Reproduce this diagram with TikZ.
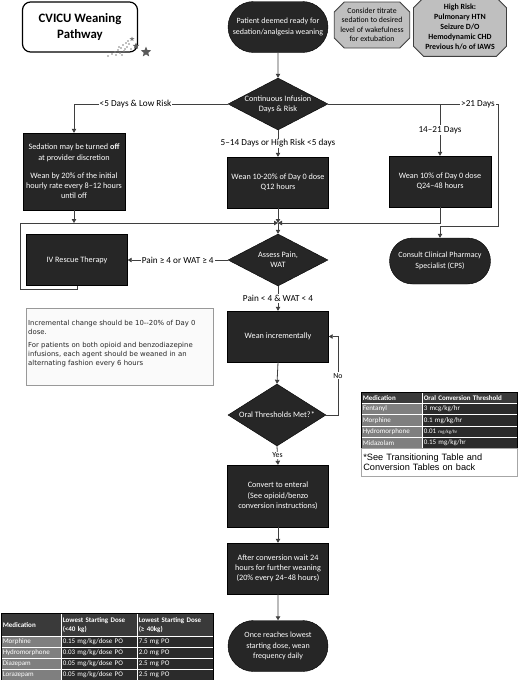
\documentclass[tikz,border=0pt]{standalone}
\usepackage{fontspec}
\setmainfont{Carlito}
\newfontfamily\notefont{DejaVu Sans}
\newfontfamily\arialfont{Liberation Sans}
\usetikzlibrary{shapes.geometric,shapes.misc,arrows.meta}
\definecolor{dk}{HTML}{262626}
\definecolor{gy}{HTML}{BFBFBF}
\definecolor{gyb}{HTML}{3F3F3F}
\definecolor{tbh}{HTML}{3A3A3A}
\definecolor{tbg}{HTML}{7F7F7F}
\definecolor{tbd}{HTML}{2B2B2B}
\definecolor{stc}{HTML}{5A5A5A}
\tikzset{
  box/.style={rectangle, fill=dk, draw=black, text=white, align=center, minimum width=101pt, minimum height=51pt, inner sep=1pt, font=\fontsize{8.2}{10.3}\selectfont},
  term/.style={rounded rectangle, fill=dk, draw=black, text=white, align=center, minimum width=102pt, minimum height=51pt, inner sep=1pt, font=\fontsize{8}{10.3}\selectfont},
  dia/.style={diamond, fill=dk, draw=black, minimum width=100pt, minimum height=52pt, inner sep=0pt},
  dtext/.style={text=white, align=center, inner sep=0pt, font=\fontsize{8.2}{10.3}\selectfont},
  gbox/.style={chamfered rectangle, chamfered rectangle xsep=5pt, chamfered rectangle ysep=5pt, fill=gy, draw=gyb, line width=0.9pt, align=center, inner sep=1pt, font=\fontsize{7.8}{9.4}\selectfont},
  lab/.style={fill=white, inner sep=1pt, font=\fontsize{9.2}{10}\selectfont},
  ln/.style={line width=0.8pt, draw=gyb},
  arr/.style={ln, -{Triangle[length=4pt,width=4.5pt]}},
  tc/.style={rectangle, anchor=north west, draw=white, line width=0.5pt, inner xsep=1.5pt, inner ysep=0pt, text=white, font=\fontsize{7}{7.6}\selectfont, align=left},
  starx/.style={star, star points=5, star point ratio=2.3, fill=stc, inner sep=0pt},
}
\begin{document}
\begin{tikzpicture}[x=1pt,y=-1pt]
\useasboundingbox (0,0) rectangle (520,680);
% title
\node[rectangle, rounded corners=8pt, draw=black, line width=1.2pt, fill=white, minimum width=115pt, minimum height=50pt, align=center, font=\fontsize{12.8}{16}\selectfont\bfseries] (title) at (80,27) {CVICU Weaning\\Pathway};
\node[starx, minimum size=11pt] (st1) at (146,52) {};
\node[starx, minimum size=7pt] (st2) at (136,46) {};
\node[starx, minimum size=5pt, fill=stc!80] (st3) at (132,39) {};
\foreach \px/\py in {108/56,112/54,115/52,118/50,121/48,124/51,127/47,129/44,126/43,120/53,116/55,123/45,131/49,128/41,122/55,125/49,119/47} {
  \fill[stc!75] (\px,\py) circle (0.8pt);
}
% top row
\node[term] (start) at (278,27) {Patient deemed ready for\\sedation/analgesia weaning};
\node[gbox, minimum width=71pt, minimum height=46pt] (cons) at (372,25) {Consider titrate\\sedation to desired\\level of wakefulness\\for extubation};
\node[gbox, minimum width=93pt, minimum height=50pt, font=\fontsize{7.9}{10.2}\selectfont\bfseries] (risk) at (460,27) {High Risk:\\Pulmonary HTN\\Seizure D/O\\Hemodynamic CHD\\Previous h/o of IAWS};
% first decision
\node[dia] (d1) at (278,104) {};
\node[dtext] (d1t) at (d1) {Continuous Infusion\\Days \& Risk};
% branch boxes
\node[box, minimum width=102pt, minimum height=77pt] (b1) at (74,171.5) {Sedation may be turned \textbf{off}\\at provider discretion\\[8pt]Wean by 20\% of the initial\\hourly rate every 8--12 hours\\until off};
\node[box] (b2) at (278,182.5) {Wean 10-20\% of Day 0 dose\\Q12 hours};
\node[box, minimum width=102pt] (b3) at (440,181.5) {Wean 10\% of Day 0 dose\\Q24--48 hours};
\node[term, minimum width=103pt, minimum height=46pt] (cps) at (440,261) {Consult Clinical Pharmacy\\Specialist (CPS)};
% second decision
\node[dia] (d2) at (278,260) {};
\node[dtext] (d2t) at (d2) {Assess Pain,\\WAT};
\node[box] (iv) at (77,260) {IV Rescue Therapy};
\node[box] (wean) at (278,336.5) {Wean incrementally};
\node[dia, minimum height=62pt, minimum width=98pt] (d3) at (277,415) {};
\node[dtext] (d3t) at (d3) {Oral Thresholds Met?*};
\node[box, minimum height=62pt] (conv) at (278,496) {Convert to enteral\\(See opioid/benzo\\conversion instructions)};
\node[box] (after) at (278,568.5) {After conversion wait 24\\hours for further weaning\\(20\% every 24--48 hours)};
\node[term] (once) at (278,646) {Once reaches lowest\\starting dose, wean\\frequency daily};
% note box
\node[rectangle, draw=gray!80, line width=0.7pt, fill=gray!4, minimum width=187pt, minimum height=77pt] (note) at (119.5,346.5) {};
\node[anchor=north west, inner sep=0pt, align=left, font=\notefont\fontsize{6.9}{8.7}\selectfont, text=black!85] (notet) at (28,320) {Incremental change should be 10--20\% of Day 0\\dose.\\[5pt]For patients on both opioid and benzodiazepine\\infusions, each agent should be weaned in an\\alternating fashion every 6 hours};
% connectors
\coordinate (rc) at (498,104);
\coordinate (bc) at (440,104);
\coordinate (j) at (278,223);
\coordinate (jl) at (74,223);
\coordinate (lc) at (20,223);
\draw[arr] (start) -- (d1);
\draw[arr] (d1.west) -| node[lab, pos=0.3] {<5 Days \& Low Risk} (b1.north);
\draw[arr] (d1.south) -- node[lab] {5--14 Days or High Risk <5 days} (b2.north);
\draw[ln] (d1.east) -- (rc);
\node[lab] (gt21) at (478,104) {>21 Days};
\draw[arr] (rc) |- (440,226) -- (cps.north);
\draw[arr] (bc) -- node[lab] {14--21 Days} (b3.north);
\draw[arr] (b1.south) -- (jl);
\draw[arr] (b2.south) -- (j);
\draw[arr] (b3.south) |- (j);
\draw[arr] (iv.south) -- ++(0,4) -| (lc) -- (j);
\draw[arr] (j) -- (d2.north);
\draw[arr] (d2.west) -- node[lab] {Pain ≥ 4 or WAT ≥ 4} (iv.east);
\draw[arr] (d2.south) -- node[lab] {Pain < 4 \& WAT < 4} (wean.north);
\draw[arr] (wean.south) -- (d3.north);
\draw[arr] (d3.east) -| node[lab, pos=0.75, font=\fontsize{7.8}{9}\selectfont] {No} (338,336.5) -- (wean.east);
\draw[arr] (d3.south) -- node[lab, font=\fontsize{7.8}{9}\selectfont] {Yes} (conv.north);
\draw[arr] (conv) -- (after);
\draw[arr] (after) -- (once);
% right table
\node[tc, fill=tbh, text width=58pt, minimum height=11.2pt, font=\fontsize{7}{7.6}\selectfont\bfseries] (oh1) at (361,392) {Medication};
\node[tc, fill=tbh, text width=92pt, minimum height=11.2pt, font=\fontsize{7}{7.6}\selectfont\bfseries] (oh2) at (422,392) {Oral Conversion Threshold};
\node[tc, fill=tbg, text width=58pt, minimum height=11.2pt] (oa1) at (361,403.2) {Fentanyl};
\node[tc, fill=tbd, text width=92pt, minimum height=11.2pt] (oa2) at (422,403.2) {3 mcg/kg/hr};
\node[tc, fill=tbg, text width=58pt, minimum height=11.2pt] (ob1) at (361,414.4) {Morphine};
\node[tc, fill=tbd, text width=92pt, minimum height=11.2pt] (ob2) at (422,414.4) {0.1 mg/kg/hr};
\node[tc, fill=tbg, text width=58pt, minimum height=11.2pt] (oc1) at (361,425.6) {Hydromorphone};
\node[tc, fill=tbd, text width=92pt, minimum height=11.2pt] (oc2) at (422,425.6) {0.01 {\fontsize{4.8}{5}\selectfont mg/kg/hr}};
\node[tc, fill=tbg, text width=58pt, minimum height=11.2pt] (od1) at (361,436.8) {Midazolam};
\node[tc, fill=tbd, text width=92pt, minimum height=11.2pt] (od2) at (422,436.8) {0.15 mg/kg/hr};
\draw[black, line width=0.8pt] (361,392) rectangle (517,448);
\node[rectangle, anchor=north west, draw=gray!70, line width=0.7pt, fill=white, minimum width=156pt, minimum height=28pt, text width=152pt, inner xsep=2pt, inner ysep=0pt, align=left, font=\arialfont\fontsize{9.2}{10.5}\selectfont] (seeback) at (361,448) {*See Transitioning Table and\\Conversion Tables on back};
% bottom table
\node[tc, fill=tbh, text width=57pt, minimum height=23pt, font=\fontsize{7}{9}\selectfont\bfseries] (bh1) at (1,613) {Medication};
\node[tc, fill=tbh, text width=73pt, minimum height=23pt, font=\fontsize{7}{9}\selectfont\bfseries] (bh2) at (61,613) {Lowest Starting Dose\\(<40 kg)};
\node[tc, fill=tbh, text width=73pt, minimum height=23pt, font=\fontsize{7}{9}\selectfont\bfseries] (bh3) at (137,613) {Lowest Starting Dose\\(≥ 40kg)};
\node[tc, fill=tbg, text width=57pt, minimum height=11pt] (ba1) at (1,636) {Morphine};
\node[tc, fill=tbd, text width=73pt, minimum height=11pt] (ba2) at (61,636) {0.15 mg/kg/dose PO};
\node[tc, fill=tbd, text width=73pt, minimum height=11pt] (ba3) at (137,636) {7.5 mg PO};
\node[tc, fill=tbg, text width=57pt, minimum height=11pt] (bb1) at (1,647) {Hydromorphone};
\node[tc, fill=tbd, text width=73pt, minimum height=11pt] (bb2) at (61,647) {0.03 mg/kg/dose PO};
\node[tc, fill=tbd, text width=73pt, minimum height=11pt] (bb3) at (137,647) {2.0 mg PO};
\node[tc, fill=tbg, text width=57pt, minimum height=11pt] (bc1) at (1,658) {Diazepam};
\node[tc, fill=tbd, text width=73pt, minimum height=11pt] (bc2) at (61,658) {0.05 mg/kg/dose PO};
\node[tc, fill=tbd, text width=73pt, minimum height=11pt] (bc3) at (137,658) {2.5 mg PO};
\node[tc, fill=tbg, text width=57pt, minimum height=11pt] (bd1) at (1,669) {Lorazepam};
\node[tc, fill=tbd, text width=73pt, minimum height=11pt] (bd2) at (61,669) {0.05 mg/kg/dose PO};
\node[tc, fill=tbd, text width=73pt, minimum height=11pt] (bd3) at (137,669) {2.5 mg PO};
\draw[black, line width=0.8pt] (1,613) rectangle (213,680);
\end{tikzpicture}
\end{document}
